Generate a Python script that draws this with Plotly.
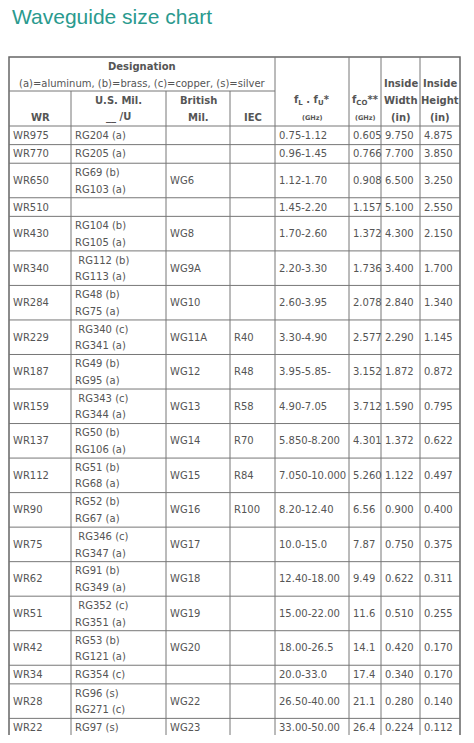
import plotly.graph_objects as go

wr = ["WR975","WR770","WR650","WR510","WR430","WR340","WR284","WR229","WR187","WR159",
      "WR137","WR112","WR90","WR75","WR62","WR51","WR42","WR34","WR28","WR22"]
usmil = [["RG204 (a)"],["RG205 (a)"],["RG69 (b)","RG103 (a)"],[],["RG104 (b)","RG105 (a)"],
         ["\u00a0RG112 (b)","RG113 (a)"],["RG48 (b)","RG75 (a)"],["\u00a0RG340 (c)","RG341 (a)"],
         ["RG49 (b)","RG95 (a)"],["\u00a0RG343 (c)","RG344 (a)"],["RG50 (b)","RG106 (a)"],
         ["RG51 (b)","RG68 (a)"],["RG52 (b)","RG67 (a)"],["\u00a0RG346 (c)","RG347 (a)"],
         ["RG91 (b)","RG349 (a)"],["\u00a0RG352 (c)","RG351 (a)"],["RG53 (b)","RG121 (a)"],
         ["RG354 (c)"],["RG96 (s)","RG271 (c)"],["RG97 (s)"]]
british = ["","","WG6","","WG8","WG9A","WG10","WG11A","WG12","WG13","WG14","WG15","WG16",
           "WG17","WG18","WG19","WG20","","WG22","WG23"]
iec = ["","","","","","","","R40","R48","R58","R70","R84","R100","","","","","","",""]
frange = ["0.75-1.12","0.96-1.45","1.12-1.70","1.45-2.20","1.70-2.60","2.20-3.30","2.60-3.95",
          "3.30-4.90","3.95-5.85-","4.90-7.05","5.850-8.200","7.050-10.000","8.20-12.40",
          "10.0-15.0","12.40-18.00","15.00-22.00","18.00-26.5","20.0-33.0","26.50-40.00","33.00-50.00"]
fco = ["0.605","0.766","0.908","1.157","1.372","1.736","2.078","2.577","3.152","3.712","4.301",
       "5.260","6.56","7.87","9.49","11.6","14.1","17.4","21.1","26.4"]
width_in = ["9.750","7.700","6.500","5.100","4.300","3.400","2.840","2.290","1.872","1.590","1.372",
            "1.122","0.900","0.750","0.622","0.510","0.420","0.340","0.280","0.224"]
height_in = ["4.875","3.850","3.250","2.550","2.150","1.700","1.340","1.145","0.872","0.795","0.622",
             "0.497","0.400","0.375","0.311","0.255","0.170","0.170","0.140","0.112"]

W, H = 474, 743
PAD = 8  # browser body margin
cols = [9, 71, 166, 230, 275, 349, 381, 420, 460]
top, mid, hbot = 57, 91, 126
bottom = 737
single, double = 18.6, 34.5
heights = [double if len(u) > 1 else single for u in usmil]
scale = (bottom - hbot) / sum(heights)
heights = [h * scale for h in heights]

fig = go.Figure()
shapes, ann = [], []
LC = "#777"
TC = "#555"
FONT = "DejaVu Sans"

def line(x0, y0, x1, y1, w=1):
    shapes.append(dict(type="line", x0=x0, y0=y0, x1=x1, y1=y1, line=dict(color=LC, width=w)))

def txt(x, y, s, size=10, anchor="left", bold=False, color=TC):
    if bold:
        s = "<b>" + s + "</b>"
    ann.append(dict(x=x, y=y, text=s, showarrow=False, xanchor=anchor, yanchor="middle",
                    font=dict(family=FONT, size=size, color=color)))

shapes.append(dict(type="rect", x0=cols[0], y0=top, x1=cols[-1], y1=bottom,
                   line=dict(color="#666", width=1.5)))
line(cols[0], mid, cols[4], mid)
for c in cols[1:4]:
    line(c, mid, c, bottom)
for c in cols[4:-1]:
    line(c, top, c, bottom)
line(cols[0], hbot, cols[-1], hbot)

txt((cols[0] + cols[4]) / 2, 66, "Designation", bold=True, anchor="center")
txt((cols[0] + cols[4]) / 2, 83, "(a)=aluminum, (b)=brass, (c)=copper, (s)=silver", anchor="center")
txt((cols[0] + cols[1]) / 2, 117, "WR", bold=True, anchor="center")
txt((cols[1] + cols[2]) / 2, 100, "U.S. Mil.", bold=True, anchor="center")
txt((cols[1] + cols[2]) / 2, 117, "__ /U", bold=True, anchor="center")
txt((cols[2] + cols[3]) / 2, 100, "British", bold=True, anchor="center")
txt((cols[2] + cols[3]) / 2, 117, "Mil.", bold=True, anchor="center")
txt((cols[3] + cols[4]) / 2, 117, "IEC", bold=True, anchor="center")
txt((cols[4] + cols[5]) / 2, 100, "f<sub>L</sub> . f<sub>U</sub>*", bold=True, anchor="center")
txt((cols[4] + cols[5]) / 2, 118, "(GHz)", size=6.5, bold=True, anchor="center")
txt((cols[5] + cols[6]) / 2, 100, "f<sub>CO</sub>**", bold=True, anchor="center")
txt((cols[5] + cols[6]) / 2, 118, "(GHz)", size=6.5, bold=True, anchor="center")
for i, lab in ((6, "Width"), (7, "Height")):
    cx = (cols[i] + cols[i + 1]) / 2
    txt(cx, 83, "Inside", bold=True, anchor="center")
    txt(cx, 100, lab, bold=True, anchor="center")
    txt(cx, 117, "(in)", bold=True, anchor="center")

y = hbot
for i in range(len(wr)):
    h = heights[i]
    cy = y + h / 2
    vals = [wr[i], None, british[i], iec[i], frange[i], fco[i], width_in[i], height_in[i]]
    for j, v in enumerate(vals):
        if j == 1:
            u = usmil[i]
            if len(u) == 1:
                txt(cols[1] + 1.5, cy, u[0])
            elif len(u) == 2:
                txt(cols[1] + 1.5, y + h * 0.27, u[0])
                txt(cols[1] + 1.5, y + h * 0.75, u[1])
        elif v:
            txt(cols[j] + 1.5, cy, v)
    y += h
    if i < len(wr) - 1:
        line(cols[0], y, cols[-1], y)

ann.append(dict(x=10, y=16, text="Waveguide size chart", showarrow=False, xanchor="left",
                yanchor="middle", font=dict(family="Liberation Sans", size=21, color="#2a9a8e")))

fig.update_layout(width=W - 2 * PAD, height=H - 2 * PAD, margin=dict(l=0, r=0, t=0, b=0),
                  paper_bgcolor="white", plot_bgcolor="white",
                  xaxis=dict(range=[PAD, W - PAD], visible=False, fixedrange=True),
                  yaxis=dict(range=[H - PAD, PAD], visible=False, fixedrange=True),
                  shapes=shapes, annotations=ann, showlegend=False)
fig.write_html("out.html", config={"displayModeBar": False})
